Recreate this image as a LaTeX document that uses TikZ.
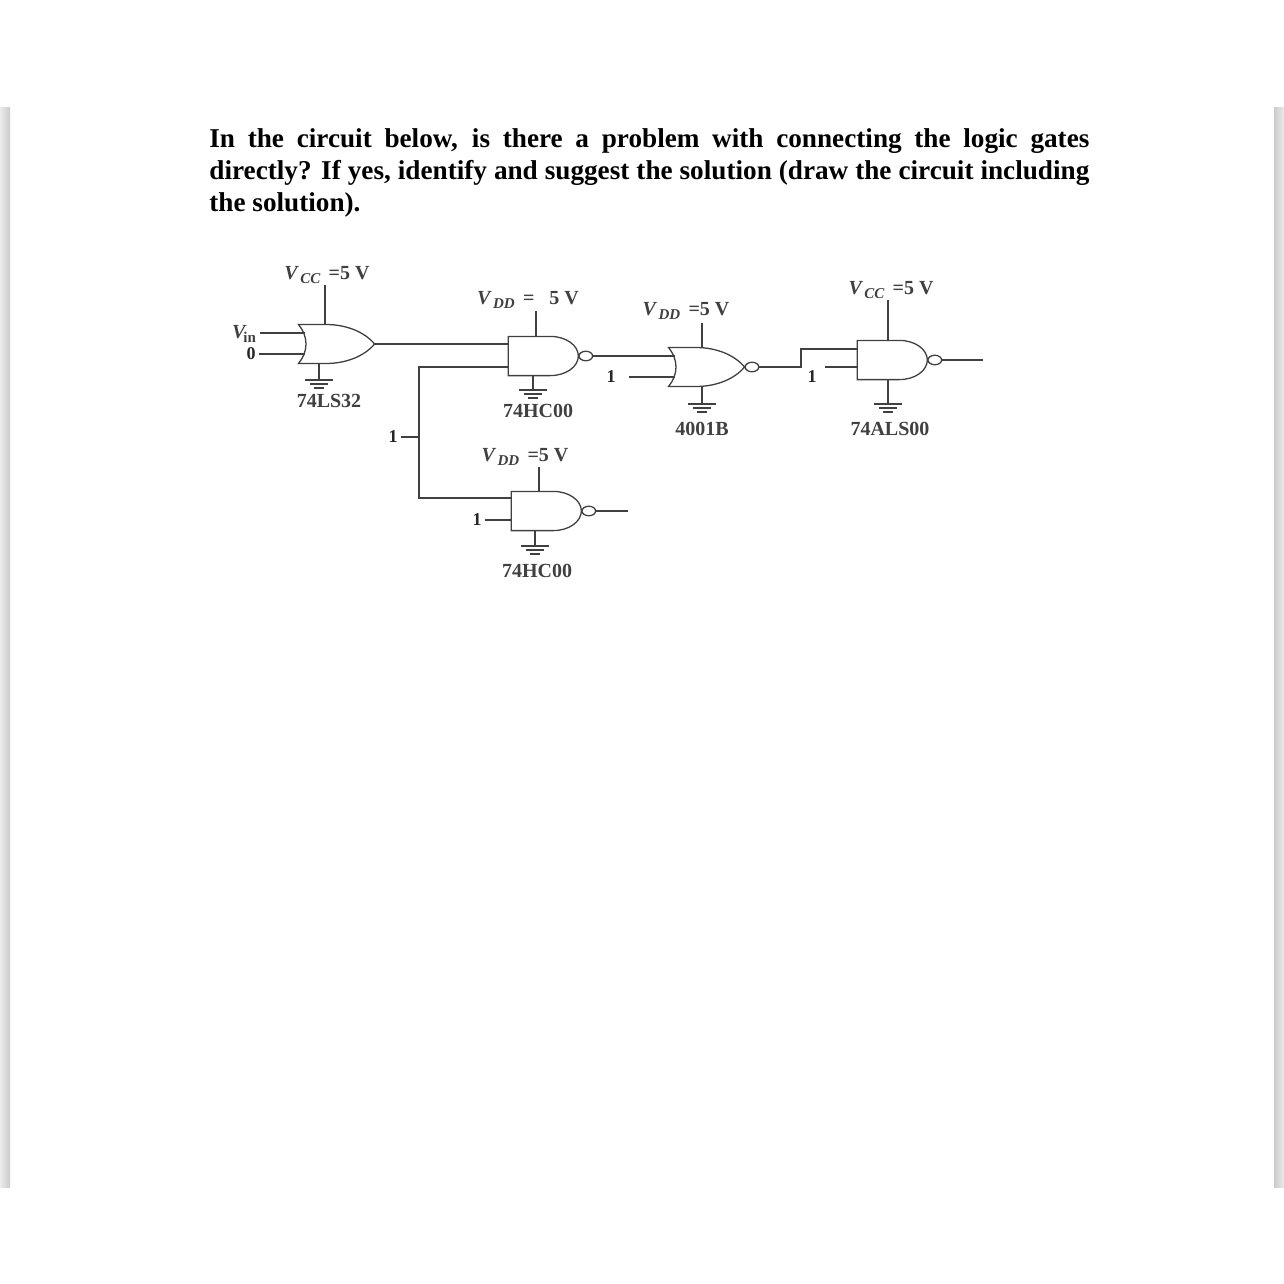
\documentclass[tikz,border=0pt]{standalone}
\usepackage{fontspec}
\setmainfont{Liberation Serif}
\usetikzlibrary{shapes.gates.logic.US}
\newcommand{\vsub}[1]{{\itshape V\raisebox{-2.4pt}{\fontsize{7.5}{8}\selectfont\,#1}}}

\tikzset{
  wire/.style={line width=0.65pt,draw=black!75},
  gateb/.style={wire,logic gate inputs=nn,inner sep=0pt,logic gate input sep=6.5pt,
                minimum width=35pt,minimum height=19.5pt,logic gate inverted radius=3.4pt,
                yscale=0.7,transform shape},
  chip/.style={font=\fontsize{10}{12}\bfseries\selectfont,text=black!75,inner sep=0pt},
  bit/.style={font=\fontsize{9}{11}\bfseries\selectfont,text=black!85,inner sep=0pt},
  gndbars/.pic={
    \draw[wire] (-14,0) -- (14,0);
    \draw[wire] (-9,4) -- (9,4);
    \draw[wire] (-5,8) -- (5,8);
  }
}

\begin{document}
\begin{tikzpicture}[x=0.5pt,y=-0.5pt]
        \useasboundingbox (0,0) rectangle (1284,1284);
        \shade[left color=black!8,right color=black!20] (0,108) rectangle (10,1187);
        \shade[left color=black!20,right color=black!8] (1274,108) rectangle (1284,1187);

        \node[anchor=north west,inner sep=0pt,text width=440pt,align=justify,
              font=\fontsize{13.6}{16}\bfseries\selectfont] (Q) at (209,128)
          {\hyphenpenalty=10000\emergencystretch=6pt In the circuit below, is there a problem with connecting the logic gates directly? If yes, identify and suggest the solution (draw the circuit including the solution).\par};

        \node[or gate US,gateb,minimum width=38pt] (OR1) at (331,344) {};
        \node[nand gate US,gateb] (NA1) at (541,356)   {};
        \node[nor gate US,gateb,minimum width=38pt] (NO1) at (701,367) {};
        \node[nand gate US,gateb] (NA2) at (890,360)   {};
        \node[nand gate US,gateb] (NA3) at (544,511)   {};

        \node[chip] (LV1) at (327,275) {\vsub{CC} \,=5 V};
        \node[chip] (LV2) at (528,300) {\vsub{DD} \,=\ \ \ 5 V};
        \node[chip] (LV3) at (686,311) {\vsub{DD} \,=5 V};
        \node[chip] (LV4) at (891,290) {\vsub{CC} \,=5 V};
        \node[chip] (LV5) at (525,457) {\vsub{DD} \,=5 V};

        \node[chip] (LC1) at (329,401) {74LS32};
        \node[chip] (LC2) at (538,411) {74HC00};
        \node[chip] (LC3) at (702,429) {4001B};
        \node[chip] (LC4) at (890,429) {74ALS00};
        \node[chip] (LC5) at (537,571) {74HC00};

        \node[chip] (IA) at (244,334) {{\itshape V\kern-1pt}\raisebox{-2.2pt}{\fontsize{7.5}{8}\selectfont in}};
        \node[bit]  (IB) at (251,354) {0};
        \node[bit]  (B1) at (611,377) {1};
        \node[bit]  (B2) at (812,377) {1};
        \node[bit]  (B3) at (393,437) {1};
        \node[bit]  (B4) at (477,520) {1};

        % supply stubs
        \coordinate (P1) at (325,285);
        \coordinate (P2) at (536,311);
        \coordinate (P3) at (702,323);
        \coordinate (P4) at (888,300);
        \coordinate (P5) at (539,467);
        \draw[wire] (P1) -- (P1 |- OR1.north);
        \draw[wire] (P2) -- (P2 |- NA1.north);
        \draw[wire] (P3) -- (P3 |- NO1.north);
        \draw[wire] (P4) -- (P4 |- NA2.north);
        \draw[wire] (P5) -- (P5 |- NA3.north);

        % grounds
        \coordinate (G1) at (319,380);
        \coordinate (G2) at (533,390);
        \coordinate (G3) at (702,404);
        \coordinate (G4) at (888,404);
        \coordinate (G5) at (535,546);
        \foreach \g/\n in {G1/OR1,G2/NA1,G3/NO1,G4/NA2,G5/NA3}{
          \draw[wire] (\n.south -| \g) -- (\g);
          \pic at (\g) {gndbars};
        }

        % free ends of the input wires
        \coordinate (A1) at (260,333);
        \coordinate (A2) at (259,354);
        \coordinate (A3) at (401,437);
        \coordinate (A4) at (629,377);
        \coordinate (A5) at (825,367);
        \coordinate (A6) at (485,520);

        % wires
        \coordinate (W1) at (419,437);
        \coordinate (W2) at (419,367);
        \coordinate (W3) at (419,498);
        \coordinate (W4) at (801,367);
        \coordinate (W5) at (801,349);
        \coordinate (E1) at (628,511);
        \coordinate (E2) at (983,360);

        \draw[wire] (A1) -- (A1 -| OR1.input 1);
        \draw[wire] (A2) -- (A2 -| OR1.input 2);
        \draw[wire] (OR1.output) -- (OR1.output -| NA1.input 1);
        \draw[wire] (W2 -| NA1.input 2) -- (W2) -- (W3) -- (W3 -| NA3.input 1);
        \draw[wire] (A3) -- (W1);
        \draw[wire] (NA1.output) -- (NA1.output -| NO1.input 1);
        \draw[wire] (A4) -- (A4 -| NO1.input 2);
        \draw[wire] (NO1.output) -- (W4) -- (W5) -- (W5 -| NA2.input 1);
        \draw[wire] (A5) -- (A5 -| NA2.input 2);
        \draw[wire] (NA2.output) -- (E2);
        \draw[wire] (A6) -- (A6 -| NA3.input 2);
        \draw[wire] (NA3.output) -- (E1);
\end{tikzpicture}
\end{document}
